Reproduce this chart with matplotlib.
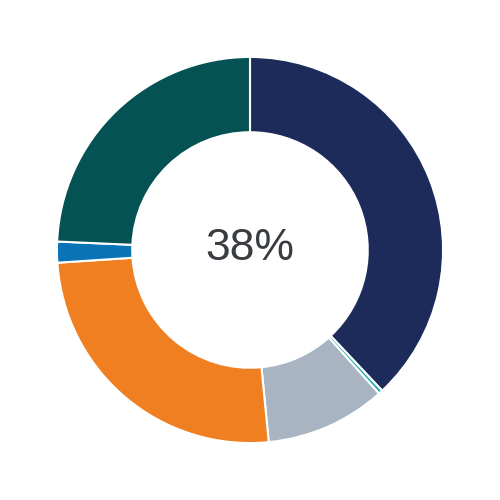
import matplotlib.pyplot as plt

labels = ['Navy', 'Teal', 'Gray', 'Orange', 'Blue', 'Dark teal']
shares = [38.0, 0.35, 10.1, 25.5, 1.75, 24.3]
colors = ['#1c2b5a', '#2ab0b0', '#a9b4c2', '#f07f22', '#0a74b6', '#045253']
center_text = '38%'

fig = plt.figure(figsize=(5, 5), dpi=100)
ax = fig.add_axes([0, 0, 1, 1])
ax.pie(shares, colors=colors, startangle=90, counterclock=False,
       radius=1.0,
       wedgeprops=dict(width=0.39, edgecolor='white', linewidth=1.5))
ax.text(0, 0.008, center_text, ha='center', va='center', fontsize=32,
        color='#393d42', family='Liberation Sans')
ax.set_xlim(-1.295, 1.295)
ax.set_ylim(-1.295, 1.295)
ax.set_aspect('equal')
ax.axis('off')

fig.savefig('out.png', dpi=100, facecolor='white')
